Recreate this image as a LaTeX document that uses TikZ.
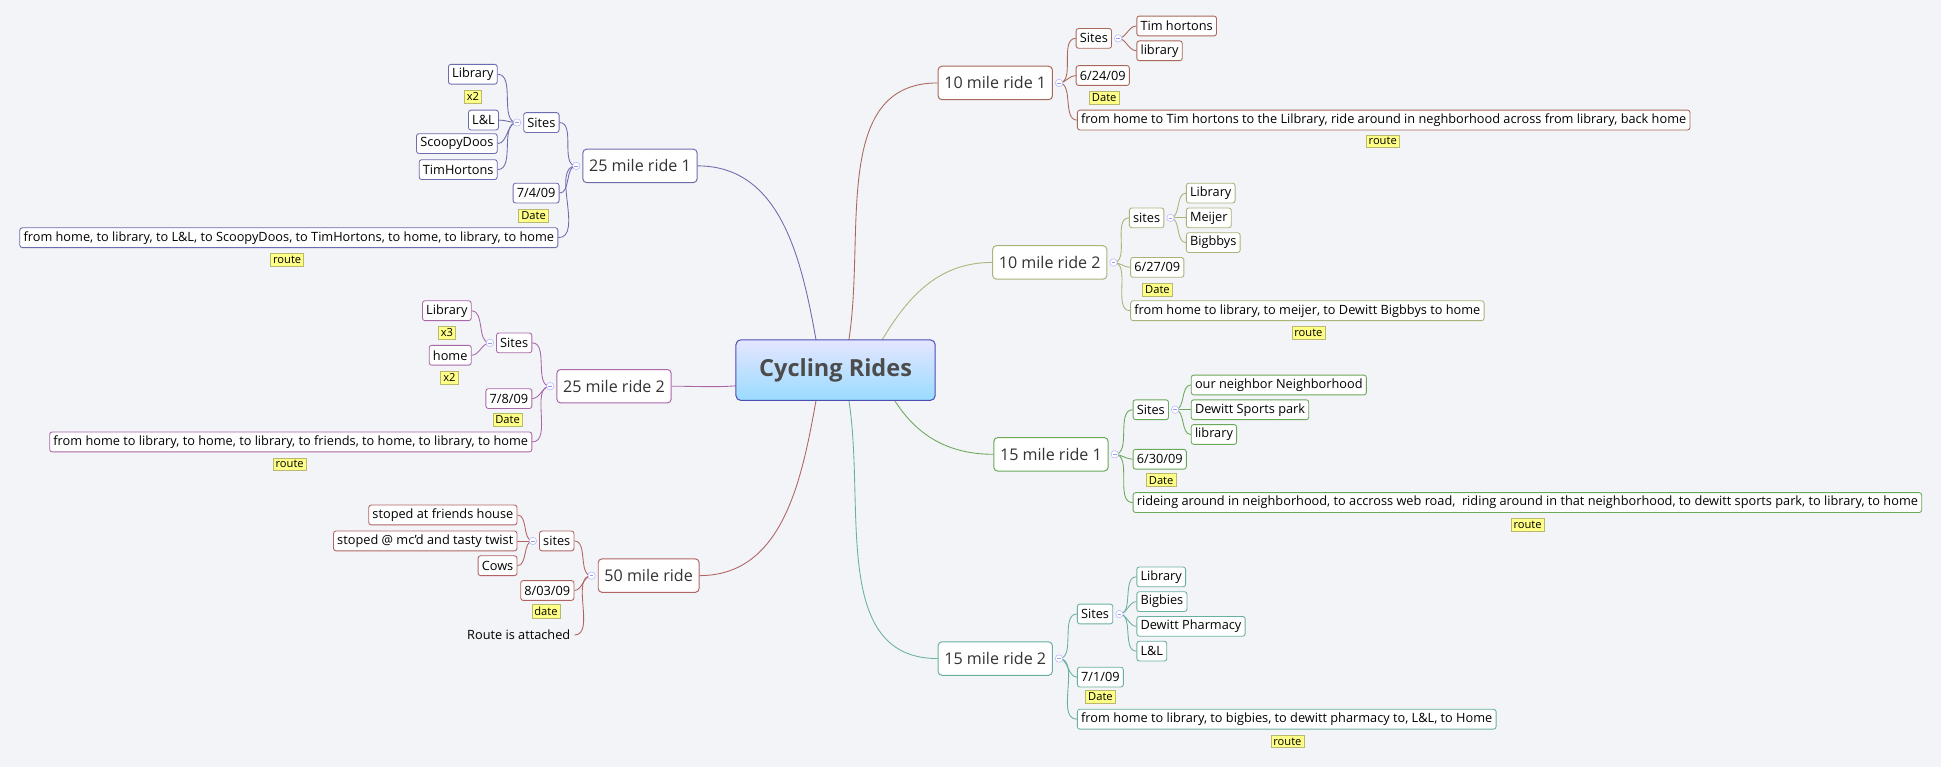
\documentclass[tikz,border=0pt]{standalone}
\usepackage{fontspec}
\setmainfont{Open Sans}
\usetikzlibrary{backgrounds,calc}
\definecolor{bg}{HTML}{F3F4F7}
\definecolor{ca}{HTML}{A8685A}
\definecolor{cb}{HTML}{A8B47A}
\definecolor{cc}{HTML}{6AA85A}
\definecolor{cd}{HTML}{6AB0A0}
\definecolor{ce}{HTML}{6C6CAE}
\definecolor{cf}{HTML}{A868A8}
\definecolor{cg}{HTML}{B06464}
\definecolor{tagc}{HTML}{FFFF88}
\definecolor{tagb}{HTML}{B8B870}
\tikzset{
 lf/.style={draw=#1, fill=white, rounded corners=2pt, inner xsep=3pt, inner ysep=2pt, font=\fontsize{10.3}{11}\selectfont, line width=0.7pt, minimum height=16pt},
 br/.style={draw=#1, fill=white, rounded corners=3pt, inner xsep=5pt, font=\fontsize{13}{15}\selectfont, minimum height=27pt, line width=0.8pt, text=black!80},
 tg/.style={draw=tagb, fill=tagc, inner sep=2pt, font=\fontsize{9}{10}\selectfont, line width=0.5pt},
 cl/.style={draw=#1, line width=0.7pt},
 knob/.style={circle, draw=blue!30, fill=white, inner sep=0pt, minimum size=6pt},
 R/.style={out=0,in=180,looseness=0.9},
 L/.style={out=180,in=0,looseness=0.9}
}
\begin{document}
\begin{tikzpicture}[x=1pt,y=-1pt]
\useasboundingbox (0,0) rectangle (1568,620);
% root
\node[draw=blue!40!gray, rounded corners=4pt, top color=blue!10, bottom color=blue!35!cyan!40, minimum width=161pt, minimum height=49pt, font=\fontsize{19}{22}\selectfont\bfseries, text=black!70, line width=0.8pt] (root) at (675,299) {Cycling Rides};
% branches
\node[br=ca] (b1) at (804,67) {10 mile ride 1};
\node[br=cb] (b2) at (848,212) {10 mile ride 2};
\node[br=cc] (b3) at (849,367) {15 mile ride 1};
\node[br=cd] (b4) at (804,532) {15 mile ride 2};
\node[br=ce] (b5) at (517,134) {25 mile ride 1};
\node[br=cf] (b6) at (496,312) {25 mile ride 2};
\node[br=cg] (b7) at (524,465) {50 mile ride};
\coordinate (k1) at ($(b1.east)+(5,0)$);
\coordinate (k2) at ($(b2.east)+(5,0)$);
\coordinate (k3) at ($(b3.east)+(5,0)$);
\coordinate (k4) at ($(b4.east)+(5,0)$);
\coordinate (k5) at ($(b5.west)+(-5,0)$);
\coordinate (k6) at ($(b6.west)+(-5,0)$);
\coordinate (k7) at ($(b7.west)+(-5,0)$);
% ride 1
\node[lf=ca,anchor=west] (s1) at (869,31) {Sites};
\node[lf=ca,anchor=west] (s1a) at (918,21) {Tim hortons};
\node[lf=ca,anchor=west] (s1b) at (918,41) {library};
\node[lf=ca,anchor=west] (d1) at (869,61) {6/24/09};
\node[tg] (t1) at (892,79) {Date};
\node[lf=ca,anchor=west] (r1) at (870,97) {from home to Tim hortons to the Lilbrary, ride around in neghborhood across from library, back home};
\node[tg] (u1) at (1117,114) {route};
\coordinate (j1) at ($(s1.east)+(5,0)$);
% ride 2
\node[lf=cb,anchor=west] (s2) at (912,176) {sites};
\node[lf=cb,anchor=west] (s2a) at (958,156) {Library};
\node[lf=cb,anchor=west] (s2b) at (958,176) {Meijer};
\node[lf=cb,anchor=west] (s2c) at (958,196) {Bigbbys};
\node[lf=cb,anchor=west] (d2) at (913,216) {6/27/09};
\node[tg] (t2) at (935,234) {Date};
\node[lf=cb,anchor=west] (r2) at (913,251) {from home to library, to meijer, to Dewitt Bigbbys to home};
\node[tg] (u2) at (1057,269) {route};
\coordinate (j2) at ($(s2.east)+(5,0)$);
% ride 3
\node[lf=cc,anchor=west] (s3) at (915,331) {Sites};
\node[lf=cc,anchor=west] (s3a) at (962,311) {our neighbor Neighborhood};
\node[lf=cc,anchor=west] (s3b) at (962,331) {Dewitt Sports park};
\node[lf=cc,anchor=west] (s3c) at (962,351) {library};
\node[lf=cc,anchor=west] (d3) at (915,371) {6/30/09};
\node[tg] (t3) at (938,388) {Date};
\node[lf=cc,anchor=west] (r3) at (915,406) {rideing around in neighborhood, to accross web road,\ \ riding around in that neighborhood, to dewitt sports park, to library, to home};
\node[tg] (u3) at (1234,424) {route};
\coordinate (j3) at ($(s3.east)+(5,0)$);
% ride 4
\node[lf=cd,anchor=west] (s4) at (870,496) {Sites};
\node[lf=cd,anchor=west] (s4a) at (918,466) {Library};
\node[lf=cd,anchor=west] (s4b) at (918,486) {Bigbies};
\node[lf=cd,anchor=west] (s4c) at (918,506) {Dewitt Pharmacy};
\node[lf=cd,anchor=west] (s4d) at (918,526) {L\&L};
\node[lf=cd,anchor=west] (d4) at (870,547) {7/1/09};
\node[tg] (t4) at (889,563) {Date};
\node[lf=cd,anchor=west] (r4) at (870,581) {from home to library, to bigbies, to dewitt pharmacy to, L\&L, to Home};
\node[tg] (u4) at (1040,599) {route};
\coordinate (j4) at ($(s4.east)+(5,0)$);
% ride 5
\node[lf=ce,anchor=east] (s5) at (452,99) {Sites};
\node[lf=ce,anchor=east] (s5a) at (402,60) {Library};
\node[tg] (x5) at (382,78) {x2};
\node[lf=ce,anchor=east] (s5b) at (403,97) {L\&L};
\node[lf=ce,anchor=east] (s5c) at (402,116) {ScoopyDoos};
\node[lf=ce,anchor=east] (s5d) at (402,137) {TimHortons};
\node[lf=ce,anchor=east] (d5) at (452,156) {7/4/09};
\node[tg] (t5) at (431,174) {Date};
\node[lf=ce,anchor=east] (r5) at (451,192) {from home, to library, to L\&L, to ScoopyDoos, to TimHortons, to home, to library, to home};
\node[tg] (u5) at (232,210) {route};
\coordinate (j5) at ($(s5.west)+(-5,0)$);
% ride 6
\node[lf=cf,anchor=east] (s6) at (430,277) {Sites};
\node[lf=cf,anchor=east] (s6a) at (381,251) {Library};
\node[tg] (x6a) at (361,269) {x3};
\node[lf=cf,anchor=east] (s6b) at (381,287) {home};
\node[tg] (x6b) at (363,305) {x2};
\node[lf=cf,anchor=east] (d6) at (430,322) {7/8/09};
\node[tg] (t6) at (410,339) {Date};
\node[lf=cf,anchor=east] (r6) at (430,357) {from home to library, to home, to library, to friends, to home, to library, to home};
\node[tg] (u6) at (234,375) {route};
\coordinate (j6) at ($(s6.west)+(-5,0)$);
% ride 7
\node[lf=cg,anchor=east] (s7) at (464,437) {sites};
\node[lf=cg,anchor=east] (s7a) at (418,416) {stoped at friends house};
\node[lf=cg,anchor=east] (s7b) at (418,437) {stoped @ mc'd and tasty twist};
\node[lf=cg,anchor=east] (s7c) at (418,457) {Cows};
\node[lf=cg,anchor=east] (d7) at (464,477) {8/03/09};
\node[tg] (t7) at (441,494) {date};
\node[lf=cg,anchor=east,draw=none,fill=none] (r7) at (464,513) {Route is attached};
\coordinate (j7) at ($(s7.west)+(-5,0)$);
% connectors
\begin{pgfonlayer}{background}
\fill[bg] (0,0) rectangle (1568,620);
\draw[cl=ca] (root.center) ++(10,-20) to[out=80,in=180] (b1.west);
\draw[cl=cb] (root.center) ++(35,-20) to[out=60,in=180] (b2.west);
\draw[cl=cc] (root.center) ++(45,20) to[out=-60,in=180] (b3.west);
\draw[cl=cd] (root.center) ++(10,20) to[out=-80,in=180] (b4.west);
\draw[cl=ce] (root.center) ++(-15,-20) to[out=100,in=0] (b5.east);
\draw[cl=cf] (root.center) ++(-60,10) to[out=190,in=0] (b6.east);
\draw[cl=cg] (root.center) ++(-15,20) to[out=-100,in=0] (b7.east);
\foreach \k/\c/\lst in {k1/ca/{s1,d1,r1}, k2/cb/{s2,d2,r2}, k3/cc/{s3,d3,r3}, k4/cd/{s4,d4,r4}}
  \foreach \n in \lst \draw[cl=\c] (\k) to[R] (\n.west);
\foreach \k/\c/\lst in {k5/ce/{s5,d5,r5}, k6/cf/{s6,d6,r6}, k7/cg/{s7,d7,r7}}
  \foreach \n in \lst \draw[cl=\c] (\k) to[L] (\n.east);
\foreach \n in {s1a,s1b} \draw[cl=ca] (j1) to[R] (\n.west);
\foreach \n in {s2a,s2b,s2c} \draw[cl=cb] (j2) to[R] (\n.west);
\foreach \n in {s3a,s3b,s3c} \draw[cl=cc] (j3) to[R] (\n.west);
\foreach \n in {s4a,s4b,s4c,s4d} \draw[cl=cd] (j4) to[R] (\n.west);
\foreach \n in {s5a,s5b,s5c,s5d} \draw[cl=ce] (j5) to[L] (\n.east);
\foreach \n in {s6a,s6b} \draw[cl=cf] (j6) to[L] (\n.east);
\foreach \n in {s7a,s7b,s7c} \draw[cl=cg] (j7) to[L] (\n.east);
\end{pgfonlayer}
\foreach \k in {k1,k2,k3,k4,k5,k6,k7,j1,j2,j3,j4,j5,j6,j7}
  \node[knob] at (\k) {\tikz[x=1pt,y=1pt]\draw[blue!40,line width=0.5pt](-1.5,0)--(1.5,0);};
\end{tikzpicture}
\end{document}
